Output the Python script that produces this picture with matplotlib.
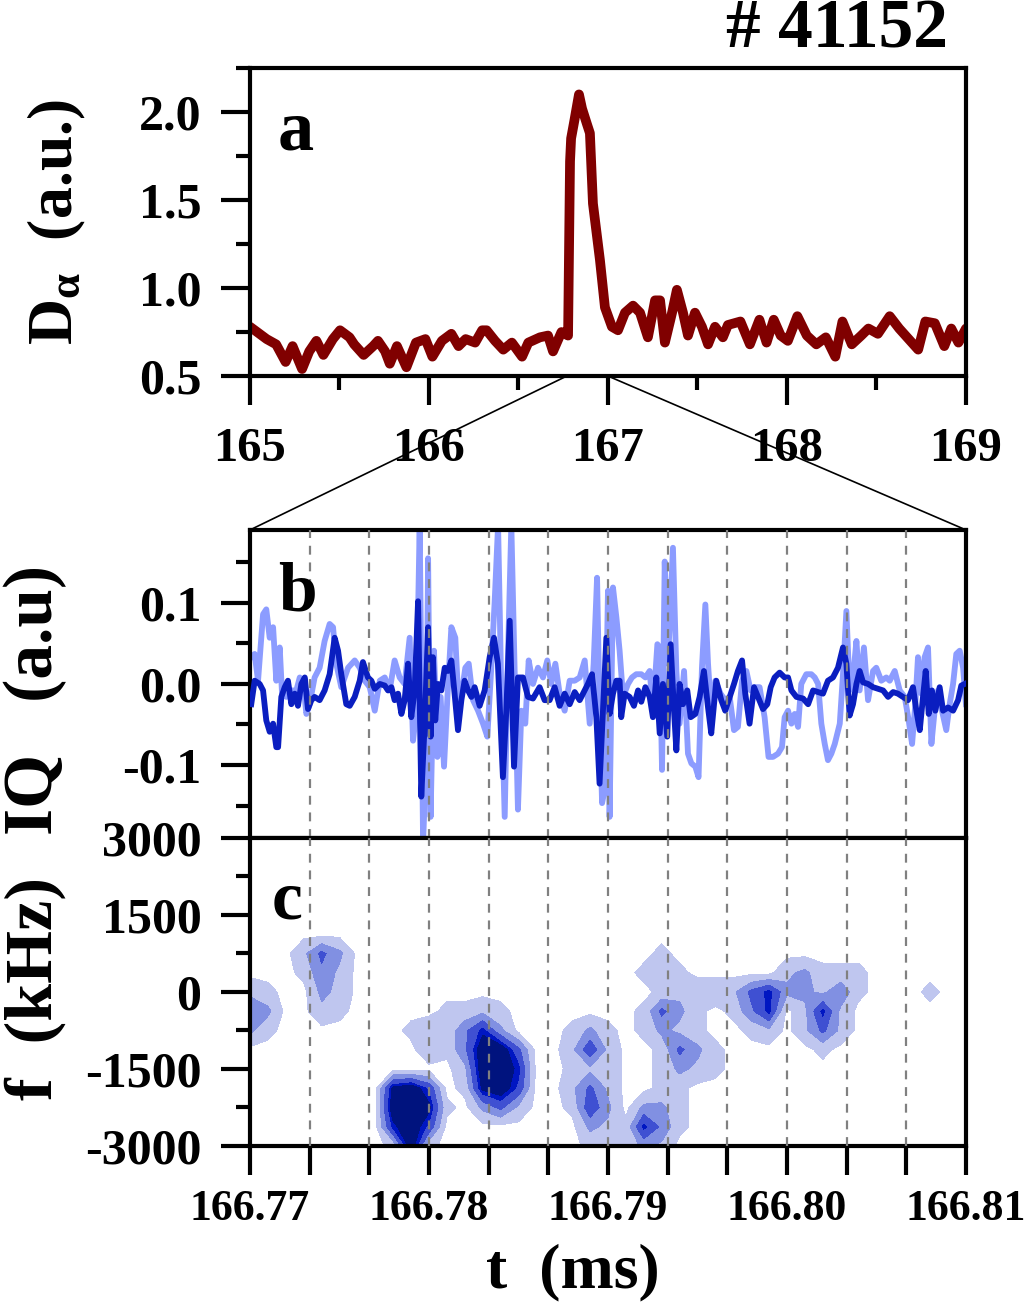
import numpy as np
import matplotlib
matplotlib.use("Agg")
import matplotlib.pyplot as plt
from matplotlib.patches import ConnectionPatch
from matplotlib.ticker import MultipleLocator, FixedLocator, FormatStrFormatter

plt.rcParams["font.family"] = ["Liberation Serif", "DejaVu Serif"]
plt.rcParams["font.weight"] = "bold"
plt.rcParams["axes.unicode_minus"] = False
plt.rcParams["mathtext.fontset"] = "custom"
plt.rcParams["mathtext.rm"] = "Liberation Serif:bold"
plt.rcParams["mathtext.it"] = "Liberation Serif:bold"
plt.rcParams["mathtext.bf"] = "Liberation Serif:bold"
plt.rcParams["mathtext.default"] = "rm"

# ---- panel a: D-alpha over 165-169 ms ----
da_t = [165.000, 165.040, 165.093, 165.146, 165.199, 165.238, 165.291, 165.331,
        165.371, 165.410, 165.463, 165.503, 165.556, 165.582, 165.635, 165.688,
        165.715, 165.755, 165.781, 165.821, 165.874, 165.927, 165.980, 166.019,
        166.072, 166.125, 166.165, 166.205, 166.258, 166.297, 166.322, 166.369,
        166.415, 166.463, 166.520, 166.555, 166.620, 166.665, 166.693, 166.740,
        166.777, 166.788, 166.794, 166.812, 166.838, 166.855, 166.883, 166.899,
        166.916, 166.955, 166.983, 167.022, 167.056, 167.095, 167.140, 167.179,
        167.223, 167.263, 167.291, 167.318, 167.358, 167.385, 167.419, 167.447,
        167.486, 167.525, 167.559, 167.598, 167.642, 167.670, 167.740, 167.793,
        167.846, 167.886, 167.926, 167.965, 168.005, 168.058, 168.111, 168.164,
        168.217, 168.270, 168.310, 168.362, 168.415, 168.455, 168.508, 168.574,
        168.627, 168.680, 168.733, 168.773, 168.826, 168.879, 168.918, 168.958,
        169.000]
da_v = [0.78, 0.75, 0.71, 0.68, 0.58, 0.67, 0.54, 0.64,
        0.70, 0.62, 0.71, 0.76, 0.72, 0.68, 0.62, 0.67,
        0.70, 0.64, 0.57, 0.67, 0.55, 0.69, 0.71, 0.61,
        0.70, 0.74, 0.67, 0.71, 0.69, 0.76, 0.76, 0.70,
        0.65, 0.69, 0.61, 0.69, 0.72, 0.73, 0.64, 0.75,
        0.73, 1.72, 1.85, 1.95, 2.10, 2.02, 1.93, 1.88,
        1.48, 1.16, 0.89, 0.78, 0.76, 0.86, 0.90, 0.86,
        0.72, 0.93, 0.93, 0.69, 0.86, 0.99, 0.86, 0.73,
        0.86, 0.78, 0.68, 0.78, 0.72, 0.79, 0.81, 0.68,
        0.82, 0.69, 0.82, 0.73, 0.70, 0.84, 0.73, 0.68,
        0.72, 0.61, 0.81, 0.68, 0.73, 0.77, 0.74, 0.84,
        0.77, 0.71, 0.65, 0.81, 0.80, 0.67, 0.77, 0.69,
        0.77]

# ---- panel b: IQ signals, time offset from 166.77 ms in microseconds ----
iq_dark_us = [0.07, 0.26, 0.54, 0.73, 0.91, 1.10, 1.29, 1.47, 1.57, 1.75, 1.94, 2.12,
              2.31, 2.50, 2.68, 2.87, 3.06, 3.24, 3.43, 3.61, 3.89, 4.17, 4.45, 4.73,
              4.92, 5.10, 5.38, 5.57, 5.85, 6.13, 6.31, 6.59, 6.78, 6.97, 7.25, 7.53,
              7.71, 7.90, 8.08, 8.27, 8.46, 8.64, 8.83, 9.01, 9.20, 9.39, 9.57, 9.76,
              9.95, 10.09, 10.22, 10.35, 10.50, 10.69, 10.88, 11.06, 11.25, 11.43, 11.62, 11.81,
              11.99, 12.18, 12.37, 12.55, 12.83, 13.11, 13.39, 13.63, 13.85, 14.13, 14.32, 14.51,
              14.75, 14.97, 15.25, 15.53, 15.81, 16.18, 16.46, 16.74, 17.02, 17.30, 17.58, 17.86,
              18.14, 18.42, 18.70, 18.88, 19.11, 19.35, 19.53, 19.72, 19.91, 20.09, 20.28, 20.47,
              20.65, 20.74, 20.93, 21.21, 21.45, 21.68, 21.86, 22.09, 22.33, 22.51, 22.70, 22.89,
              23.07, 23.31, 23.50, 23.69, 23.82, 24.00, 24.19, 24.43, 24.62, 24.88, 25.12, 25.36,
              25.59, 25.77, 26.05, 26.33, 26.55, 26.80, 27.04, 27.26, 27.49, 27.67, 27.91, 28.16,
              28.38, 28.66, 28.90, 29.09, 29.31, 29.59, 29.87, 30.06, 30.25, 30.53, 30.90, 31.18,
              31.46, 31.74, 32.01, 32.29, 32.57, 32.85, 33.13, 33.32, 33.50, 33.69, 33.88, 34.06,
              34.25, 34.53, 34.81, 35.09, 35.37, 35.65, 35.93, 36.20, 36.48, 36.76, 37.04, 37.23,
              37.42, 37.60, 37.75, 37.92, 38.10, 38.29, 38.53, 38.72, 39.00, 39.28, 39.56, 39.74,
              39.93]
iq_dark = [-0.025, 0.004, 0.000, -0.008, -0.045, -0.059, -0.049, -0.078, -0.078, -0.016, -0.004, 0.004,
           -0.025, -0.012, -0.027, 0.000, 0.008, -0.031, -0.020, -0.016, -0.020, -0.008, 0.012, 0.057,
           0.041, 0.012, -0.025, -0.027, -0.016, 0.004, 0.027, 0.008, 0.004, -0.006, 0.000, -0.002,
           -0.008, -0.004, -0.020, -0.012, -0.037, -0.020, 0.025, -0.041, -0.008, 0.102, -0.139, -0.049,
           0.070, -0.065, 0.033, -0.045, 0.000, -0.008, 0.020, 0.016, 0.029, -0.012, -0.057, -0.020,
           0.004, -0.008, -0.016, -0.004, -0.027, -0.008, 0.033, 0.057, 0.025, -0.115, -0.033, 0.078,
           -0.102, 0.008, 0.008, -0.016, -0.018, -0.004, -0.020, -0.020, -0.004, -0.027, -0.012, -0.025,
           -0.010, -0.020, -0.008, 0.000, 0.012, -0.041, -0.123, -0.033, 0.057, -0.037, -0.012, 0.004,
           0.004, -0.041, -0.012, -0.016, -0.027, -0.008, -0.022, -0.004, -0.016, -0.041, 0.008, -0.061,
           0.000, -0.065, 0.049, -0.033, -0.082, 0.000, -0.025, -0.008, -0.041, -0.037, -0.016, 0.016,
           -0.029, -0.061, 0.004, -0.020, -0.033, -0.016, 0.000, 0.016, 0.029, -0.012, -0.049, -0.004,
           -0.016, -0.031, -0.025, -0.004, 0.008, 0.014, 0.008, 0.008, -0.008, -0.016, -0.018, -0.025,
           -0.008, -0.010, -0.012, 0.004, 0.008, 0.020, 0.045, 0.025, -0.039, -0.025, 0.000, 0.016,
           0.002, 0.000, -0.004, -0.006, -0.008, -0.016, -0.010, -0.012, -0.016, -0.020, -0.004, -0.033,
           -0.057, -0.016, 0.016, -0.037, -0.008, -0.033, -0.004, -0.033, -0.029, -0.033, -0.020, -0.002,
           0.000]

iq_light_us = [0.07, 0.26, 0.45, 0.73, 0.91, 1.10, 1.29, 1.47, 1.66, 1.79, 2.03, 2.31,
               2.59, 2.78, 2.96, 3.15, 3.33, 3.61, 3.89, 4.17, 4.45, 4.64, 4.82, 5.10,
               5.48, 5.85, 6.13, 6.41, 6.69, 6.97, 7.25, 7.53, 7.80, 8.08, 8.36, 8.64,
               8.92, 9.11, 9.29, 9.48, 9.67, 9.85, 9.95, 10.09, 10.28, 10.47, 10.65, 10.84,
               11.03, 11.25, 11.47, 11.66, 11.85, 12.03, 12.22, 12.46, 12.74, 13.02, 13.26, 13.48,
               13.67, 13.86, 14.04, 14.23, 14.41, 14.60, 14.79, 14.97, 15.16, 15.38, 15.57, 15.81,
               16.09, 16.37, 16.61, 16.83, 17.06, 17.30, 17.58, 17.86, 18.14, 18.42, 18.70, 18.98,
               19.20, 19.39, 19.53, 19.67, 19.81, 20.00, 20.09, 20.28, 20.47, 20.65, 20.84, 21.12,
               21.34, 21.58, 21.86, 22.09, 22.33, 22.51, 22.76, 22.89, 23.02, 23.17, 23.35, 23.63,
               23.82, 24.00, 24.25, 24.47, 24.66, 24.88, 25.06, 25.25, 25.44, 25.59, 25.77, 26.00,
               26.29, 26.55, 26.80, 27.04, 27.26, 27.49, 27.73, 27.97, 28.19, 28.47, 28.75, 28.97,
               29.22, 29.50, 29.72, 29.87, 30.06, 30.25, 30.43, 30.62, 30.80, 31.08, 31.36, 31.55,
               31.74, 31.92, 32.11, 32.29, 32.48, 32.67, 32.95, 33.13, 33.32, 33.50, 33.69, 33.88,
               34.06, 34.30, 34.53, 34.81, 34.99, 35.27, 35.55, 35.74, 36.02, 36.30, 36.58, 36.80,
               36.99, 37.17, 37.32, 37.51, 37.69, 37.88, 38.07, 38.25, 38.44, 38.66, 38.90, 39.09,
               39.28, 39.46, 39.65, 39.84, 40.00]
iq_light = [0.033, 0.037, 0.004, 0.086, 0.092, 0.057, 0.070, 0.004, 0.045, -0.012, -0.016, -0.008,
            -0.008, 0.008, 0.004, -0.037, -0.025, 0.008, 0.020, 0.053, 0.074, 0.070, 0.025, -0.004,
            0.020, 0.029, 0.020, 0.004, -0.004, -0.033, 0.004, 0.008, -0.008, 0.029, 0.008, 0.000,
            0.057, -0.070, -0.033, 0.196, -0.196, -0.090, 0.155, -0.164, 0.041, -0.090, -0.016, -0.102,
            -0.016, 0.070, 0.057, -0.029, -0.008, 0.020, 0.025, -0.020, -0.033, -0.049, -0.065, 0.020,
            0.102, 0.196, -0.008, -0.164, 0.033, 0.196, 0.012, -0.155, -0.033, -0.049, 0.029, 0.000,
            0.020, 0.008, 0.029, 0.000, 0.025, -0.012, -0.033, 0.004, 0.004, 0.008, 0.029, -0.049,
            0.025, 0.131, -0.033, -0.147, -0.131, 0.115, -0.164, 0.119, 0.082, 0.041, -0.016, 0.000,
            0.008, 0.012, 0.012, 0.008, 0.016, -0.033, 0.049, 0.045, -0.106, 0.151, 0.025, 0.168,
            0.016, -0.049, 0.016, -0.086, -0.098, -0.102, -0.115, 0.020, 0.098, 0.025, -0.037, 0.004,
            -0.012, -0.020, -0.016, -0.057, -0.053, 0.004, 0.016, -0.008, -0.004, -0.004, -0.041, -0.090,
            -0.090, -0.086, -0.078, -0.041, -0.033, -0.049, -0.037, -0.053, 0.000, 0.012, 0.012, 0.008,
            0.000, -0.049, -0.074, -0.094, -0.086, -0.074, -0.049, 0.012, 0.090, -0.008, 0.008, 0.053,
            -0.008, 0.045, -0.020, 0.016, 0.020, 0.004, 0.008, 0.004, 0.016, -0.008, -0.016, -0.045,
            -0.074, -0.025, 0.033, -0.012, 0.033, 0.045, -0.074, -0.033, -0.008, -0.033, -0.057, -0.025,
            0.000, 0.037, 0.041, 0.020, -0.025]

# ---- panel c: spectrogram intensity (0-9), 1 us columns, 375 kHz rows, top row = +3000 kHz ----
spec_t_us = np.arange(0, 41)
spec_f_khz = np.linspace(3000, -3000, 17)
spec_rows = [
    "00000000000000000000000000000000000000000",
    "00000000000000000000000000000000000000000",
    "00000000000000000000000000000000000000000",
    "00000000000000000000000000000000000000000",
    "00000000000000000000000000000000000000000",
    "00000000000000000000000000000000000000000",
    "00025300000000000000000100000000000000000",
    "00014200000000000000001210000023111000000",
    "21003200000000000000000122225733241000100",
    "43002100000112100000001531014702720000000",
    "31000000012147300013101321001202520000000",
    "00000000002149950026200153100000100000000",
    "00000000000029970012200132100000000000000",
    "00000000896018960025200110000000000000000",
    "00000000998103520016303310000000000000000",
    "00000000796000000003217410000000000000000",
    "00000000191000000001213200000000000000000",
]
spec_levels = [0.5, 2.5, 4.5, 6.5, 7.5, 9.5]
spec_colors = ["#bfc6ef", "#8190e2", "#3f50d2", "#0016c2", "#00137e"]

T0 = 166.77
dash_t = [T0 + k * 0.04 / 12 for k in range(1, 12)]


def style_axis(ax):
    for sp in ax.spines.values():
        sp.set_linewidth(3)
    ax.tick_params(which="both", direction="out", width=3, top=False, right=False)
    ax.tick_params(axis="y", labelsize=36, pad=14)
    ax.tick_params(axis="x", labelsize=35, pad=16)
    ax.tick_params(which="major", length=21)
    ax.tick_params(which="minor", length=10)


fig = plt.figure(figsize=(10.25, 13.03), dpi=100)
ax_a = fig.add_axes([0.2439, 0.7114, 0.6985, 0.2364])
ax_b = fig.add_axes([0.2439, 0.3569, 0.6985, 0.2364])
ax_c = fig.add_axes([0.2439, 0.1205, 0.6985, 0.2364])

# panel a
ax_a.plot(da_t, da_v, color="#800000", lw=7, solid_joinstyle="round",
          solid_capstyle="round")
ax_a.set_xlim(165, 169)
ax_a.set_ylim(0.5, 2.25)
ax_a.xaxis.set_major_locator(MultipleLocator(1))
ax_a.xaxis.set_minor_locator(MultipleLocator(0.5))
ax_a.yaxis.set_major_locator(MultipleLocator(0.5))
ax_a.yaxis.set_minor_locator(MultipleLocator(0.25))
ax_a.yaxis.set_major_formatter(FormatStrFormatter("%.1f"))
ax_a.xaxis.set_major_formatter(FormatStrFormatter("%d"))
style_axis(ax_a)
ax_a.text(0.039, 0.734, "a", transform=ax_a.transAxes, fontsize=52,
          fontweight="bold", va="baseline", ha="left")

# panel b
ax_b.plot(T0 + np.array(iq_light_us) / 1000, iq_light, color="#8c9cff", lw=4.2, zorder=2)
ax_b.plot(T0 + np.array(iq_dark_us) / 1000, iq_dark, color="#0a1ec0", lw=4.2, zorder=3)
ax_b.set_xlim(T0, 166.81)
ax_b.set_ylim(-0.19, 0.19)
ax_b.yaxis.set_major_locator(FixedLocator([-0.1, 0.0, 0.1]))
ax_b.yaxis.set_minor_locator(FixedLocator([-0.15, -0.05, 0.05, 0.15]))
ax_b.yaxis.set_major_formatter(FormatStrFormatter("%.1f"))
style_axis(ax_b)
ax_b.tick_params(axis="x", which="both", bottom=False, labelbottom=False)
ax_b.text(0.039, 0.74, "b", transform=ax_b.transAxes, fontsize=50,
          fontweight="bold", va="baseline", ha="left", zorder=5)

# panel c
Z = np.array([[int(ch) for ch in row] for row in spec_rows], dtype=float)
ax_c.contourf(T0 + spec_t_us / 1000, spec_f_khz, Z, levels=spec_levels,
              colors=spec_colors, zorder=1)
ax_c.set_xlim(T0, 166.81)
ax_c.set_ylim(-3000, 3000)
ax_c.xaxis.set_major_locator(FixedLocator([166.77, 166.78, 166.79, 166.80, 166.81]))
ax_c.xaxis.set_minor_locator(FixedLocator(dash_t))
ax_c.xaxis.set_major_formatter(FormatStrFormatter("%.2f"))
ax_c.yaxis.set_major_locator(FixedLocator([-3000, -1500, 0, 1500, 3000]))
ax_c.yaxis.set_minor_locator(FixedLocator([-2250, -750, 750, 2250]))
ax_c.yaxis.set_major_formatter(FormatStrFormatter("%d"))
style_axis(ax_c)
ax_c.tick_params(axis="x", labelsize=31.5, pad=10)
ax_c.tick_params(axis="x", which="minor", length=21)
ax_c.text(0.03, 0.74, "c", transform=ax_c.transAxes, fontsize=50,
          fontweight="bold", va="baseline", ha="left", zorder=5)

for ax in (ax_b, ax_c):
    for x in dash_t:
        ax.axvline(x, color="0.5", lw=1.6, ls=(0, (4, 3.5)), zorder=4)

# zoom connectors
for xa, xb in ((166.77, 0.0), (167.0, 1.0)):
    con = ConnectionPatch(xyA=(xa, 0.5), coordsA=ax_a.transData,
                          xyB=(xb, 1.0), coordsB=ax_b.transAxes,
                          color="black", lw=1.2)
    fig.add_artist(con)

# labels
fig.text(57 / 1025, 1 - 222 / 1303, r"D$_{\alpha}$  (a.u.)", rotation=90,
         ha="center", va="center", fontsize=46, fontweight="bold")
fig.text(35 / 1025, 1 - 700 / 1303, "IQ   (a.u)", rotation=90,
         ha="center", va="center", fontsize=50, fontweight="bold")
fig.text(35 / 1025, 1 - 988 / 1303, "f  (kHz)", rotation=90,
         ha="center", va="center", fontsize=49, fontweight="bold")
fig.text(573 / 1025, 1 - 1272 / 1303, "t  (ms)",
         ha="center", va="center", fontsize=46, fontweight="bold")
fig.text(948 / 1025, 1 - 31 / 1303, "# 41152", ha="right", va="center",
         fontsize=50, fontweight="bold")

fig.savefig("out.png", dpi=100)
